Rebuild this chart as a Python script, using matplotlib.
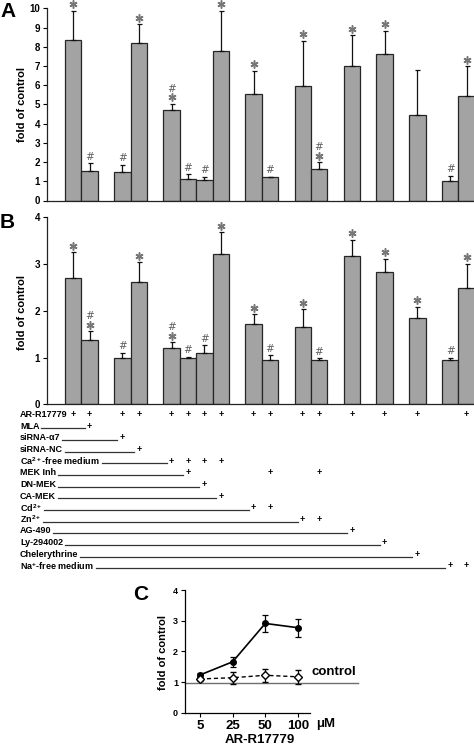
import matplotlib
matplotlib.use("Agg")
import matplotlib.pyplot as plt
from matplotlib import transforms
import numpy as np

plt.rcParams['font.family'] = ['Liberation Sans', 'DejaVu Sans']
plt.rcParams['font.weight'] = 'bold'
plt.rcParams['mathtext.fontset'] = 'custom'
plt.rcParams['mathtext.rm'] = 'Liberation Sans:bold'
plt.rcParams['mathtext.default'] = 'rm'

# bar slots along the x axis (gaps between groups)
slots = [0, 1, 3, 4, 6, 7, 8, 9, 11, 12, 14, 15, 17, 19, 21, 23, 24]

# panel A
a_mean = [8.36, 1.54, 1.48, 8.19, 4.71, 1.10, 1.07, 7.80, 5.55, 1.22, 5.96, 1.64, 7.00, 7.63, 4.44, 1.03, 5.46]
a_err = [1.51, 0.41, 0.37, 1.00, 0.33, 0.28, 0.17, 2.07, 1.21, 0.03, 2.36, 0.35, 1.60, 1.21, 2.36, 0.25, 1.54]
a_marks = ['*', '#', '#', '*', '#*', '#', '#', '*', '*', '#', '*', '#*', '*', '*', '', '#', '*']

# panel B
b_mean = [2.70, 1.37, 1.00, 2.61, 1.21, 1.00, 1.10, 3.20, 1.71, 0.95, 1.66, 0.95, 3.17, 2.82, 1.84, 0.95, 2.48]
b_err = [0.55, 0.19, 0.10, 0.42, 0.12, 0.02, 0.16, 0.48, 0.22, 0.10, 0.37, 0.04, 0.35, 0.29, 0.25, 0.05, 0.52]
b_marks = ['*', '#*', '#', '*', '#*', '#', '#', '*', '*', '#', '*', '#', '*', '*', '*', '#', '*']

# treatment table
rows = ["AR-R17779", "MLA", "siRNA-\u03b17", "siRNA-NC", r"Ca$^{2+}$-free medium", "MEK Inh",
        "DN-MEK", "CA-MEK", r"Cd$^{2+}$", r"Zn$^{2+}$", "AG-490", "Ly-294002",
        "Chelerythrine", r"Na$^{+}$-free medium"]
row_bars = [[0, 1, 2, 3, 4, 5, 6, 7, 8, 9, 10, 11, 12, 13, 14, 16],
            [1], [2], [3], [4, 5, 6, 7], [5, 9, 11], [6], [7],
            [8, 9], [10, 11], [12], [13], [14], [15, 16]]

# panel C
conc = ["5", "25", "50", "100"]
ar_mean = [1.23, 1.66, 2.91, 2.77]
ar_err = [0.06, 0.17, 0.29, 0.30]
ctrl_mean = [1.10, 1.14, 1.22, 1.17]
ctrl_err = [0.06, 0.20, 0.22, 0.23]
control_level = 0.97

W, H = 474, 747
fig = plt.figure(figsize=(W / 100, H / 100), dpi=100)


def box(l, t, r, b):
    return [l / W, 1 - b / H, (r - l) / W, (b - t) / H]


gray = '#777777'


def bar_panel(ax, mean, err, marks, ymax):
    ax.bar(slots, mean, width=1.0, color='#a3a3a3', edgecolor='#262626', linewidth=0.9, zorder=2)
    ax.errorbar(slots, mean, yerr=[np.zeros(len(err)), err], fmt='none', ecolor='#111111',
                elinewidth=0.9, capsize=1.8, capthick=0.9, zorder=3)
    ax.set_xlim(-1.6, 24.45)
    ax.set_ylim(0, ymax)
    ax.set_yticks(range(0, ymax + 1))
    ax.set_xticks([])
    for s in ['top', 'right']:
        ax.spines[s].set_visible(False)
    for s in ['left', 'bottom']:
        ax.spines[s].set_linewidth(0.9)
        ax.spines[s].set_color('#222222')
    ax.tick_params(axis='y', length=3, width=0.8, labelsize=7, pad=2)
    tops = np.array(mean) + np.array(err)
    for x, top, m in zip(slots, tops, marks):
        for level, ch in enumerate(reversed(m)):
            tr = transforms.offset_copy(ax.transData, fig, y=6.5 + 8.5 * level, units='dots')
            if ch == '*':
                ax.plot(x, top, marker=(6, 2, 0), ms=5.8, mew=1.1, color=gray,
                        transform=tr, clip_on=False)
            else:
                ax.text(x, top, '#', transform=tr, ha='center', va='center', fontsize=7.5,
                        color='#5e5e5e', style='italic', fontweight='normal',
                        family='DejaVu Sans', clip_on=False)


ax_a = fig.add_axes(box(47, 8.5, 474, 200.5))
bar_panel(ax_a, a_mean, a_err, a_marks, 10)
ax_b = fig.add_axes(box(47, 217, 474, 404.5))
bar_panel(ax_b, b_mean, b_err, b_marks, 4)

fig.text(0, 1 - 2 / H, 'A', fontsize=15, fontweight='bold', va='top', ha='left')
fig.text(0, 1 - 213 / H, 'B', fontsize=15, fontweight='bold', va='top', ha='left')
fig.text(22 / W, 1 - 105 / H, 'fold of control', rotation=90, fontsize=8, ha='center', va='center')
fig.text(22 / W, 1 - 312 / H, 'fold of control', rotation=90, fontsize=8, ha='center', va='center')

# treatment table below panel B
ax_t = fig.add_axes(box(47, 405, 474, 575))
ax_t.set_xlim(-1.6, 24.45)
ax_t.set_ylim(13.78, -0.815)
ax_t.axis('off')
lab_tr = transforms.blended_transform_factory(fig.transFigure, ax_t.transData)
labels = []
for i, (name, members) in enumerate(zip(rows, row_bars)):
    t = ax_t.text(20 / W, i, name, transform=lab_tr, fontsize=6.5, ha='left', va='center')
    labels.append(t)
    for b in members:
        ax_t.text(slots[b], i, '+', fontsize=6.5, ha='center', va='center', clip_on=False)

fig.canvas.draw()
renderer = fig.canvas.get_renderer()
inv = ax_t.transData.inverted()
for i, (t, members) in enumerate(zip(labels, row_bars)):
    if i == 0:
        continue
    ext = t.get_window_extent(renderer)
    x0 = inv.transform((ext.x1 + 2, 0))[0]
    x1 = slots[members[0]] - 5 / 16.39
    ax_t.plot([x0, x1], [i + 0.2, i + 0.2], color='#333333', lw=0.9, clip_on=False)

# panel C
ax_c = fig.add_axes(box(185, 590, 310, 712.7))
xc = np.arange(len(conc))
ax_c.errorbar(xc, ar_mean, yerr=ar_err, fmt='-o', color='black', ms=4, lw=1.2,
              elinewidth=0.9, capsize=2, capthick=0.9, zorder=3)
ax_c.errorbar(xc, ctrl_mean, yerr=ctrl_err, fmt='--D', color='black', mfc='white', mec='black',
              ms=4.5, mew=1.0, lw=1.0, elinewidth=0.9, capsize=2, capthick=0.9, zorder=3,
              dashes=(3, 2))
ax_c.plot([-0.46, 4.85], [control_level, control_level], color='#6f6f6f', lw=1.0,
          clip_on=False, zorder=1)
ax_c.text(3.43, 1.33, 'control', fontsize=9.5, ha='left', va='center')
ax_c.set_xlim(-0.46, 3.37)
ax_c.set_ylim(0, 4)
ax_c.set_yticks(range(0, 5))
ax_c.set_xticks(xc)
ax_c.set_xticklabels(conc, fontsize=9.5)
for s in ['top', 'right']:
    ax_c.spines[s].set_visible(False)
for s in ['left', 'bottom']:
    ax_c.spines[s].set_linewidth(0.9)
ax_c.tick_params(axis='y', length=3, width=0.8, labelsize=6.5, pad=2)
ax_c.tick_params(axis='x', length=3, width=0.8, pad=2)
tr_c = transforms.blended_transform_factory(ax_c.transData, ax_c.transAxes)
ax_c.text(3.56, -0.045, '\u03bcM', transform=tr_c, fontsize=9.5, ha='left', va='top')
ax_c.text(0.6, -0.175, 'AR-R17779', transform=ax_c.transAxes, fontsize=9.5, ha='center', va='top')
fig.text(133 / W, 1 - 595 / H, 'C', fontsize=15, fontweight='bold', va='center', ha='left')
fig.text(163 / W, 1 - 652 / H, 'fold of control', rotation=90, fontsize=8, ha='center', va='center')

fig.savefig('out.png', dpi=100)
